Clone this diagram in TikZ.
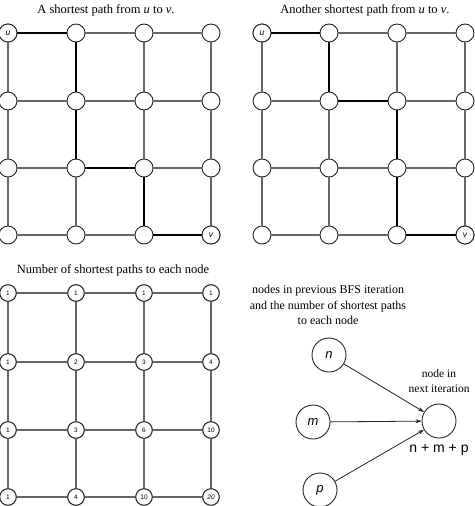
\documentclass[tikz,border=0pt]{standalone}
\usepackage{fontspec}
\setmainfont{Liberation Serif}
\setsansfont{Liberation Sans}
\usetikzlibrary{arrows.meta}
\begin{document}
\begin{tikzpicture}[x=1pt,y=-1pt,
  gridline/.style={draw=black!60,line width=1.1pt},
  pathline/.style={draw=black,line width=1.9pt},
  vbig/.style={circle,draw=black!85,fill=white,line width=0.9pt,minimum size=18pt,inner sep=0pt,font=\sffamily\itshape\fontsize{8.5}{8.5}\selectfont},
  vnum/.style={circle,draw=black!85,fill=white,line width=0.9pt,minimum size=16.5pt,inner sep=0pt,font=\sffamily\fontsize{6.5}{6.5}\selectfont},
  vflow/.style={circle,draw=black!85,fill=white,line width=0.9pt,minimum size=34pt,inner sep=0pt,font=\sffamily\itshape\fontsize{13}{13}\selectfont},
  title/.style={font=\fontsize{12.5}{15}\selectfont,align=center},
  flowarrow/.style={draw=black!85,line width=0.8pt,-{Stealth[length=6pt,width=4pt]}}
]
\useasboundingbox (0,0) rectangle (474,506);
\fill[white] (0,0) rectangle (474,506);

% ---------- titles ----------
\node[title] (t1) at (106,10) {A shortest path from \textit{u} to \textit{v}.};
\node[title] (t2) at (365,10) {Another shortest path from \textit{u} to \textit{v}.};
\node[title] (t3) at (113,270) {Number of shortest paths to each node};
\node[title,font=\fontsize{12}{15.5}\selectfont] (t4) at (328,305) {nodes in previous BFS iteration\\and the number of shortest paths\\to each node};

% ---------- grid A ----------
\foreach \c/\x in {0/8,1/76,2/144,3/211}{
  \foreach \r/\y in {0/33,1/101,2/168,3/235}{
    \node[vbig] (a\c\r) at (\x,\y) {};
  }}
\foreach \c in {0,1,2,3}{
  \foreach \r/\s in {0/1,1/2,2/3}{
    \draw[gridline] (a\c\r) -- (a\c\s);
    \draw[gridline] (a\r\c) -- (a\s\c);
  }}
\draw[pathline] (a00) -- (a10);
\draw[pathline] (a10) -- (a11);
\draw[pathline] (a11) -- (a12);
\draw[pathline] (a12) -- (a22);
\draw[pathline] (a22) -- (a23);
\draw[pathline] (a23) -- (a33);
\node[vbig] at (a00) {u};
\node[vbig] at (a33) {v};

% ---------- grid B ----------
\foreach \c/\x in {0/262,1/329,2/397,3/465}{
  \foreach \r/\y in {0/33,1/101,2/168,3/235}{
    \node[vbig] (b\c\r) at (\x,\y) {};
  }}
\foreach \c in {0,1,2,3}{
  \foreach \r/\s in {0/1,1/2,2/3}{
    \draw[gridline] (b\c\r) -- (b\c\s);
    \draw[gridline] (b\r\c) -- (b\s\c);
  }}
\draw[pathline] (b00) -- (b10);
\draw[pathline] (b10) -- (b11);
\draw[pathline] (b11) -- (b21);
\draw[pathline] (b21) -- (b22);
\draw[pathline] (b22) -- (b23);
\draw[pathline] (b23) -- (b33);
\node[vbig] at (b00) {u};
\node[vbig] at (b33) {v};

% ---------- grid C ----------
\foreach \c/\x in {0/8,1/76,2/144,3/211}{
  \foreach \r/\y in {0/293,1/362,2/430,3/497}{
    \node[vnum] (c\c\r) at (\x,\y) {};
  }}
\foreach \c in {0,1,2,3}{
  \foreach \r/\s in {0/1,1/2,2/3}{
    \draw[gridline] (c\c\r) -- (c\c\s);
    \draw[gridline] (c\r\c) -- (c\s\c);
  }}
\foreach \c/\r/\v in {0/0/1,1/0/1,2/0/1,3/0/1,
                      0/1/1,1/1/2,2/1/3,3/1/4,
                      0/2/1,1/2/3,2/2/6,3/2/10,
                      0/3/1,1/3/4,2/3/10}{
  \node[vnum] at (c\c\r) {\v};
}
\node[vnum,font=\sffamily\itshape\fontsize{6.5}{6.5}\selectfont] at (c33) {20};

% ---------- BFS step ----------
\node[vflow] (n) at (329,355) {n};
\node[vflow] (m) at (313,422) {m};
\node[vflow] (p) at (320,490) {p};
\node[vflow] (q) at (439,421) {};
\node[font=\fontsize{11.5}{15}\selectfont,align=center] (lbl) at (439,381) {node in\\next iteration};
\node[font=\sffamily\fontsize{14}{14}\selectfont] (sum) at (439,450) {n + m + p};
\draw[flowarrow] (n) -- (q);
\draw[flowarrow] (m) -- (q);
\draw[flowarrow] (p) -- (q);
\end{tikzpicture}
\end{document}
